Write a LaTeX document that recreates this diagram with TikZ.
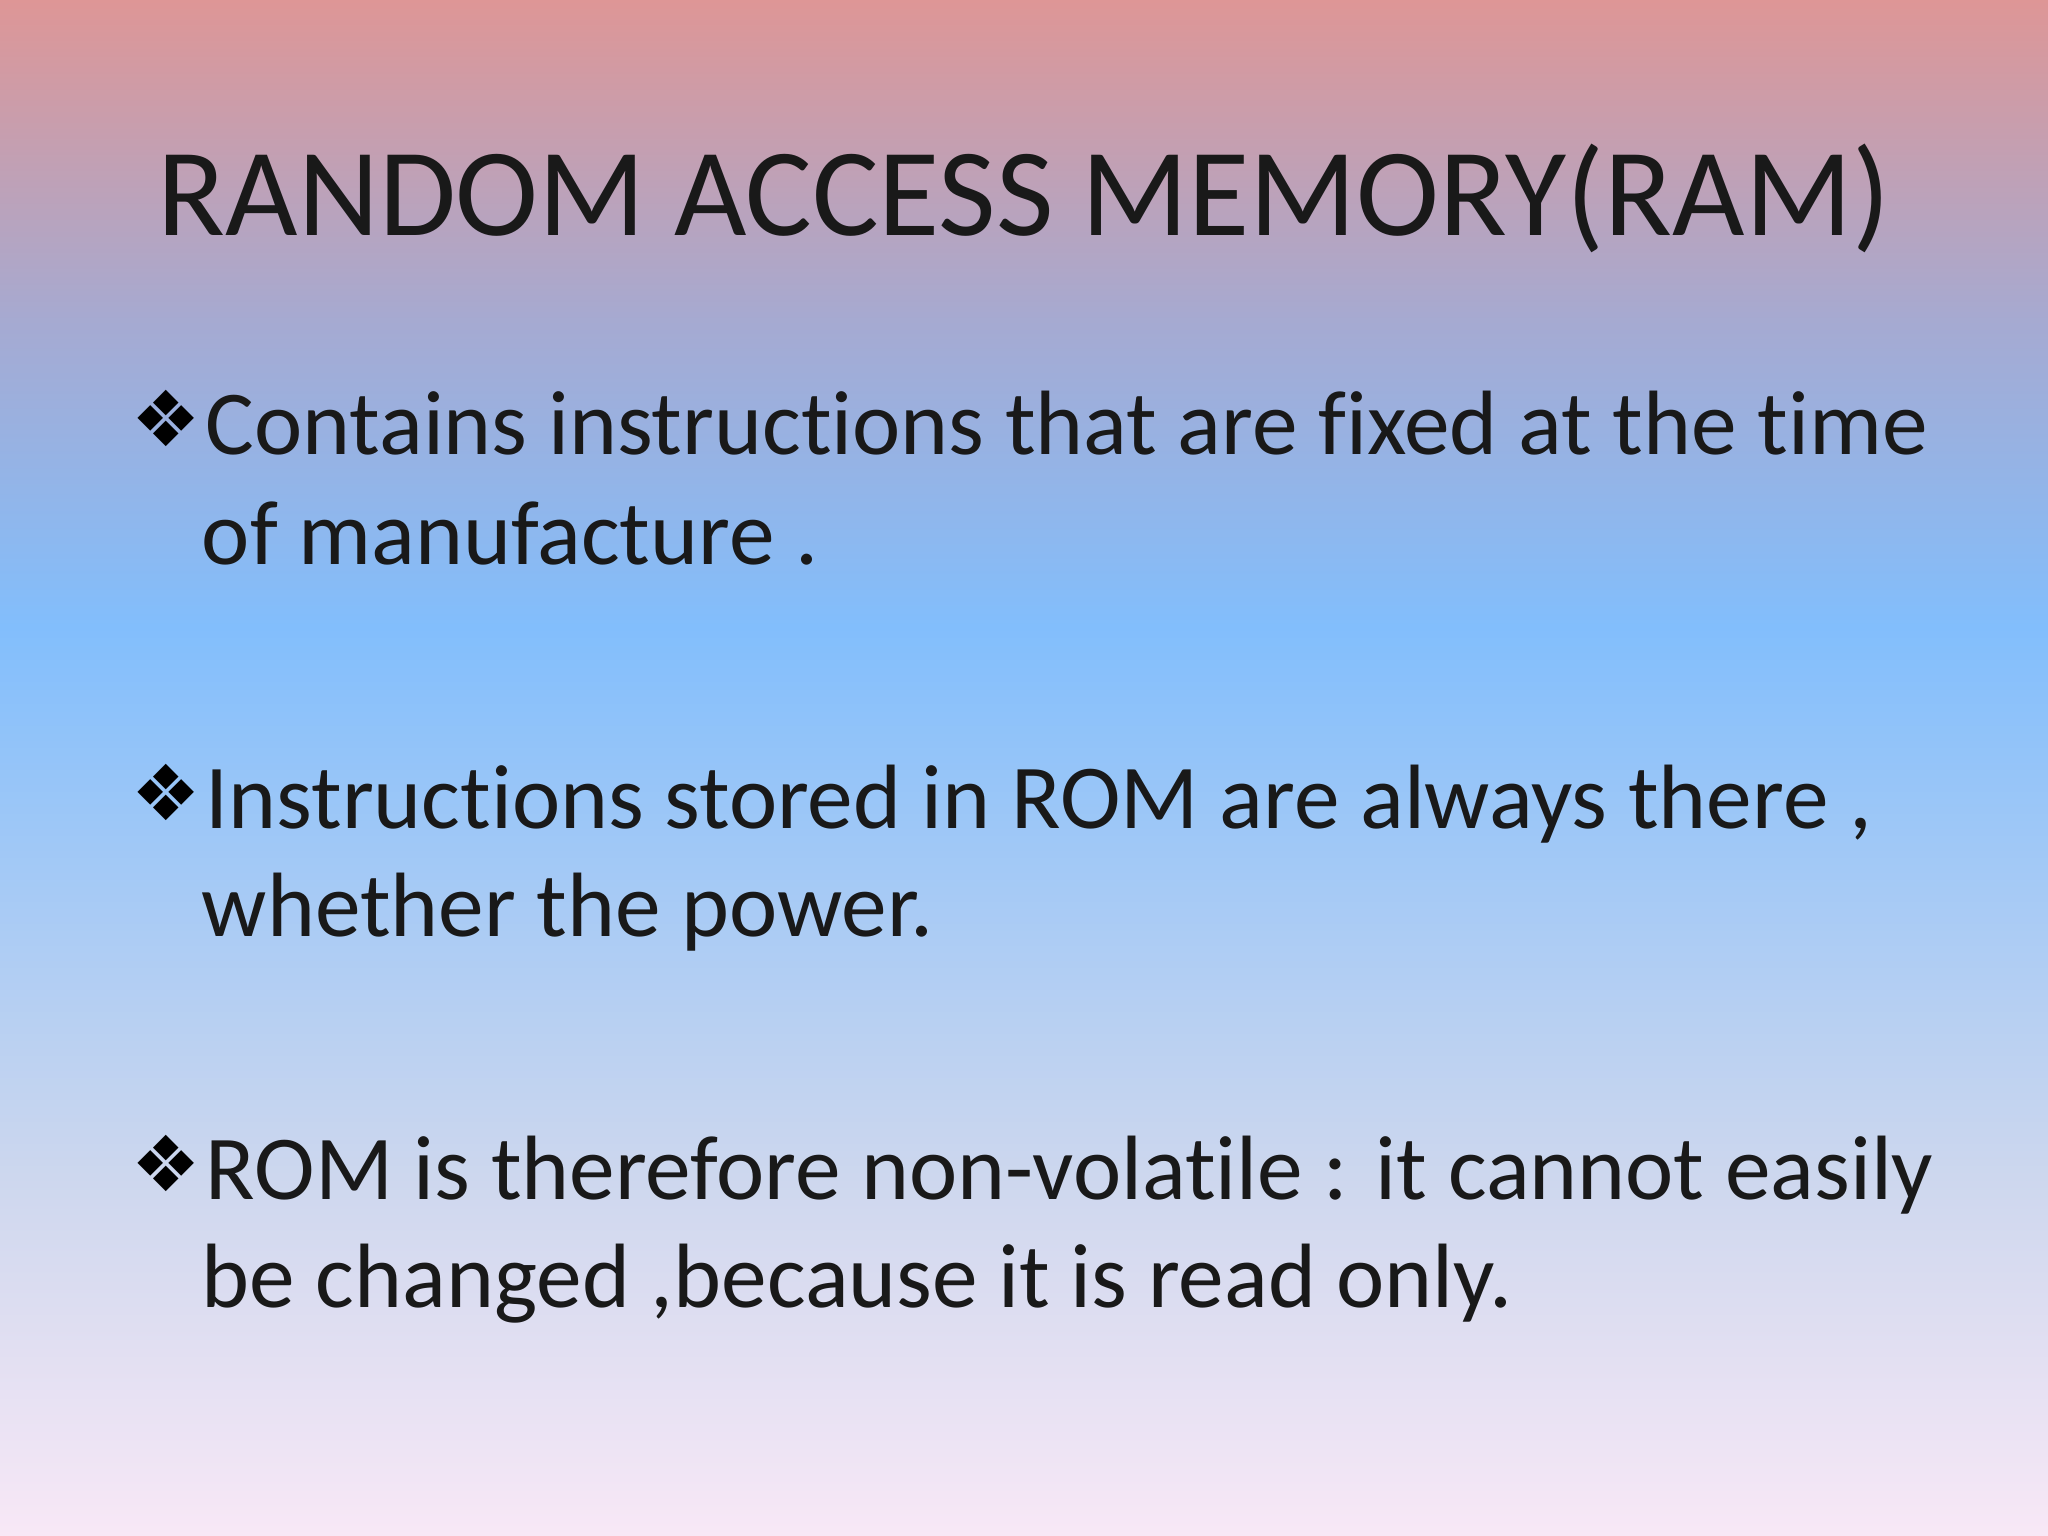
\documentclass[tikz,border=0pt]{standalone}
\usepackage{fontspec}
\setmainfont[Ligatures={NoCommon,NoContextual}]{Carlito}
\newfontfamily\symfont{DejaVu Sans}
\definecolor{cA}{RGB}{248,232,246}
\definecolor{cB}{RGB}{205,215,238}
\definecolor{cC}{RGB}{130,190,252}
\definecolor{cD}{RGB}{165,170,210}
\definecolor{cE}{RGB}{222,150,150}
\pgfdeclareverticalshading{bgshade}{100bp}{color(0bp)=(cA); color(25bp)=(cA); color(36.7bp)=(cB); color(54.6bp)=(cC); color(64.4bp)=(cD); color(75bp)=(cE); color(100bp)=(cE)}
\begin{document}
\begin{tikzpicture}[x=0.01306cm,y=-0.01306cm,
  title/.style={anchor=base,font=\fontsize{35.6}{42}\selectfont,text=black!90,inner sep=0},
  body/.style={anchor=base west,font=\fontsize{26}{31}\selectfont,text=black!90,inner sep=0},
  bul/.style={anchor=base west,font=\symfont\fontsize{22}{26}\selectfont,inner sep=0}]
\useasboundingbox (0,0) rectangle (1568,1176);
\fill[shading=bgshade] (0,0) rectangle (1568,1176);
\node[title] (t) at (784,180) {RANDOM ACCESS MEMORY(RAM)};
\node[bul] (b1) at (100,342) {❖};
\node[body] (l1) at (157,348) {Contains instructions that are fixed at the time};
\node[body] (l2) at (154,432) {of manufacture .};
\node[bul] (b2) at (100,628) {❖};
\node[body] (l3) at (157,634) {Instructions stored in ROM are always there ,};
\node[body] (l4) at (154,717) {whether the power.};
\node[bul] (b3) at (100,912) {❖};
\node[body] (l5) at (157,918) {ROM is therefore non-volatile : it cannot easily};
\node[body] (l6) at (154,1001) {be changed ,because it is read only.};
\end{tikzpicture}
\end{document}
